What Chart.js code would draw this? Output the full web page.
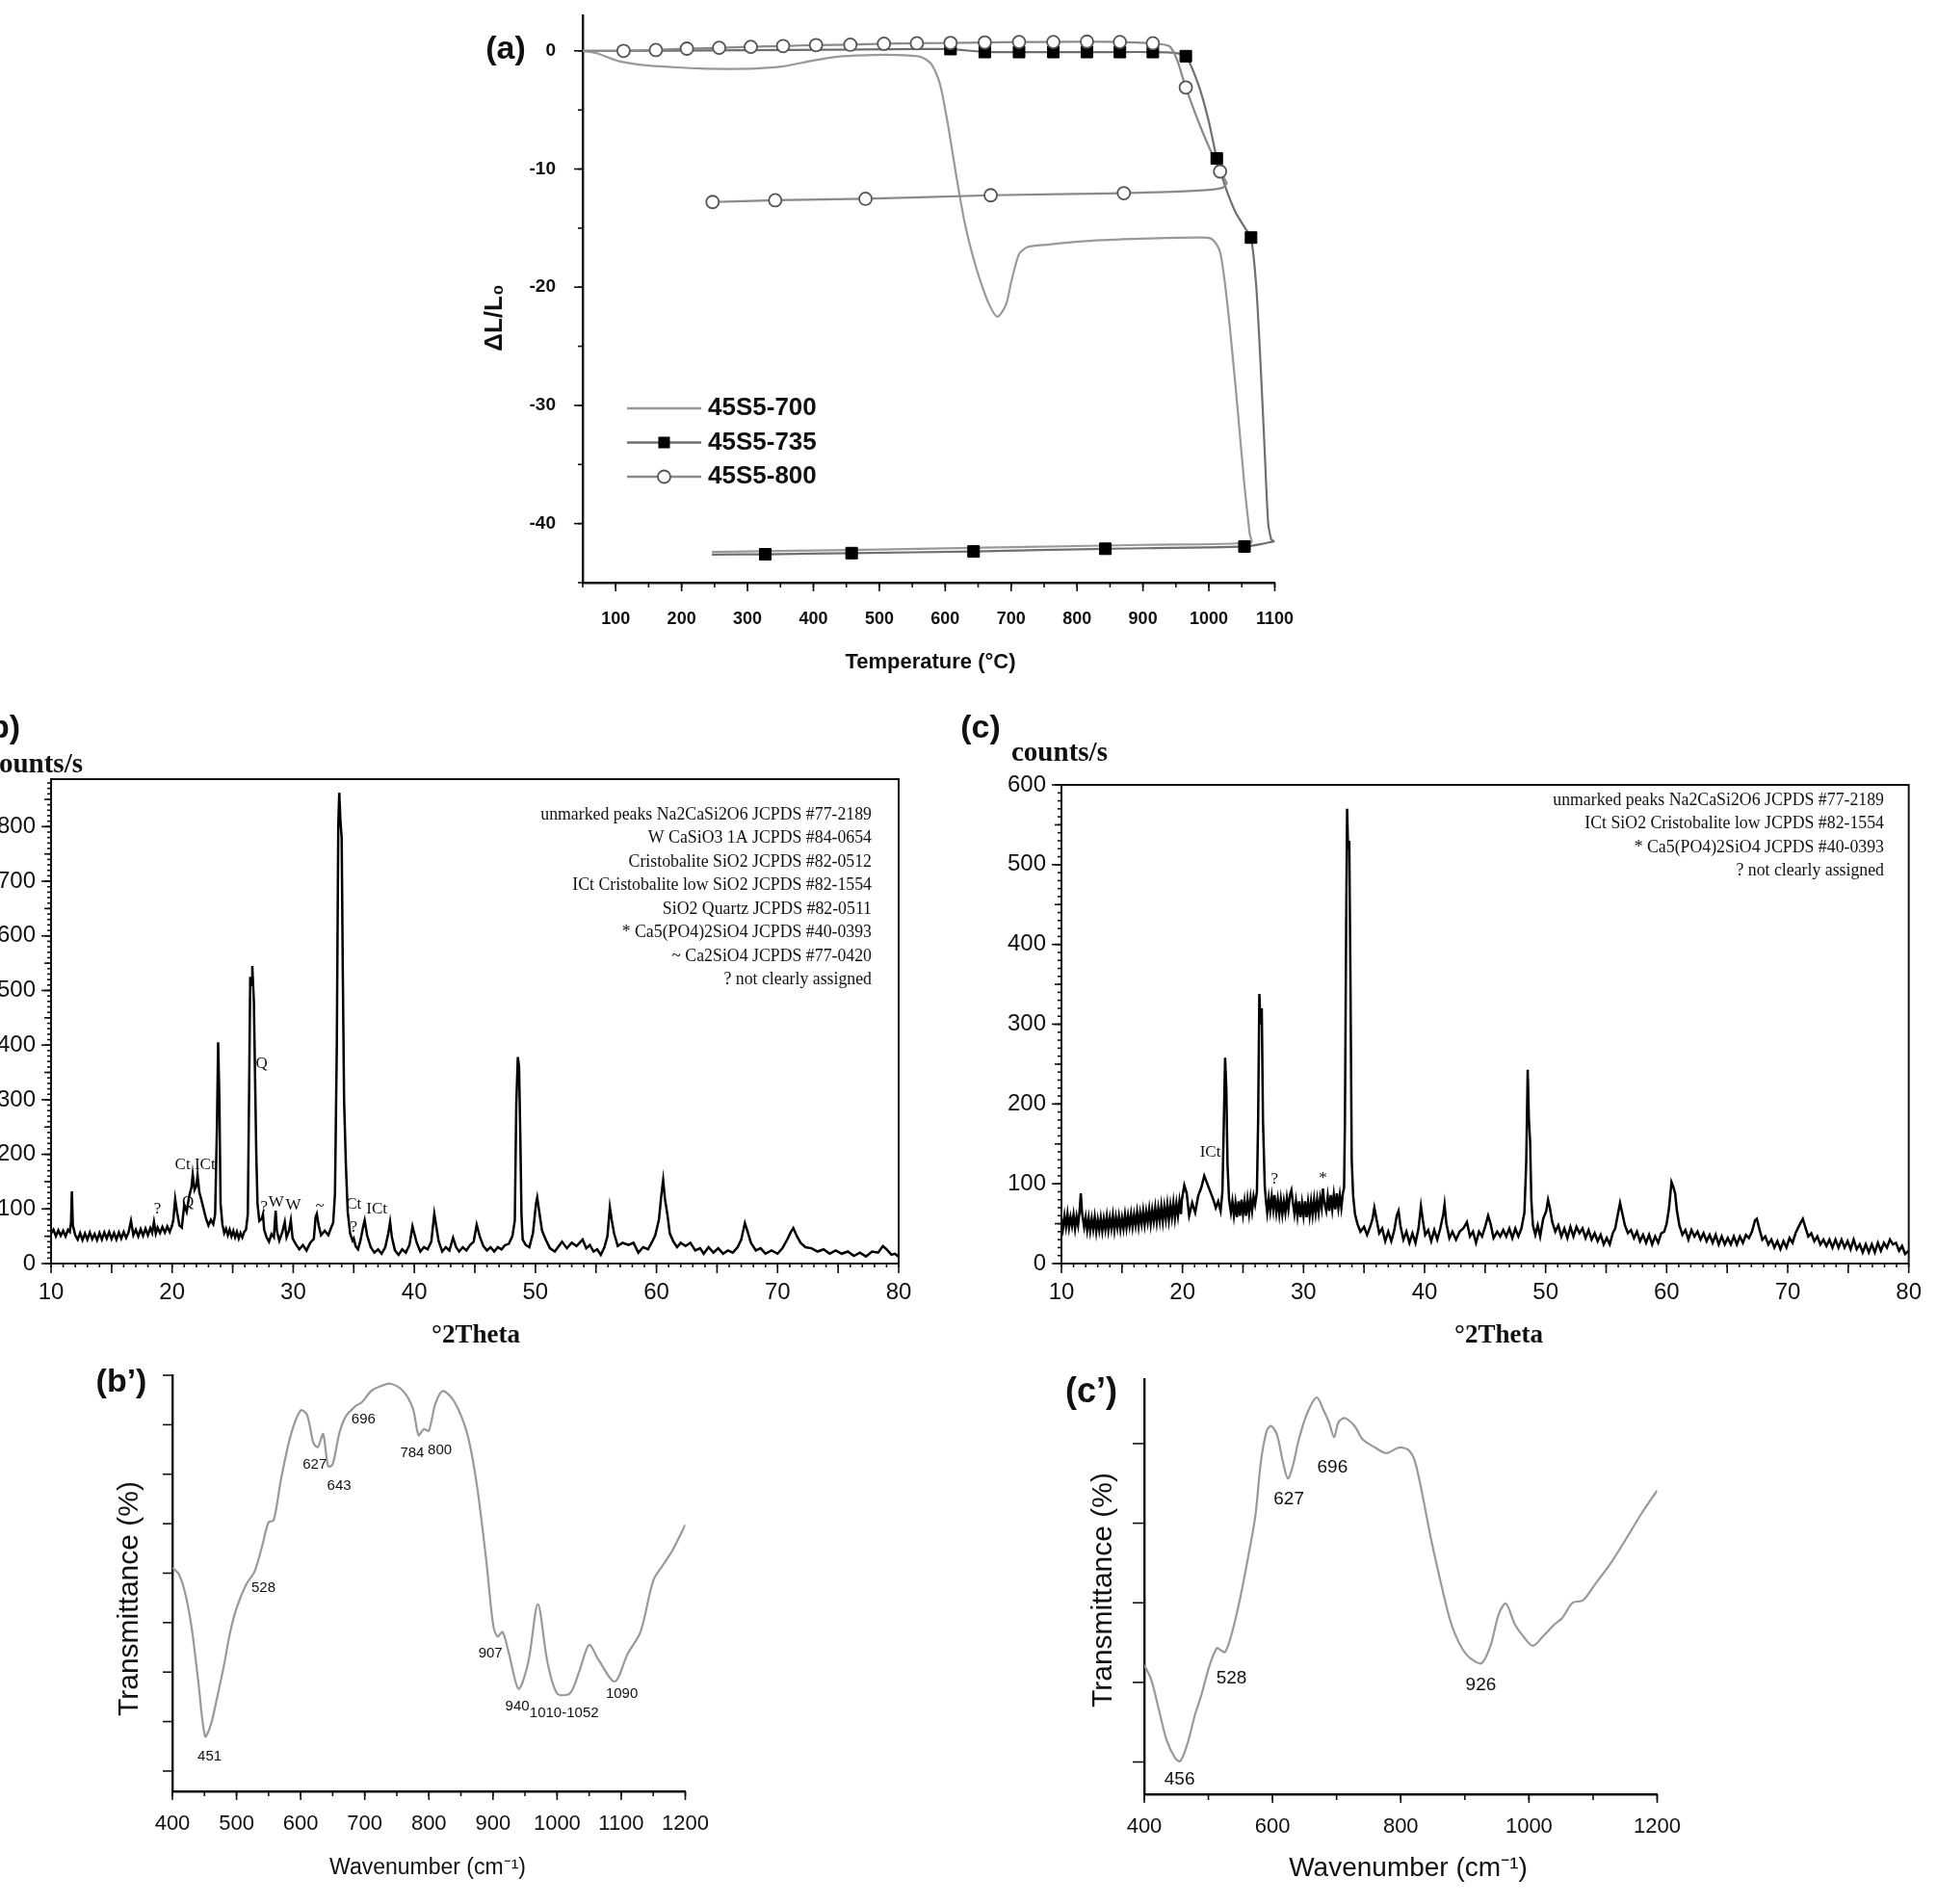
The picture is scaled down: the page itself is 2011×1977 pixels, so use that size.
<!DOCTYPE html>
<html>
<head>
<meta charset="utf-8">
<script src="https://cdn.jsdelivr.net/npm/chart.js@4.4.1/dist/chart.umd.min.js"></script>
<style>
html, body { margin: 0; padding: 0; background: #fff; }
body { width: 2011px; height: 1977px; position: relative; overflow: hidden; }
canvas { position: absolute; }
</style>
</head>
<body>
<canvas id="chartA"></canvas>
<canvas id="chartB"></canvas>
<canvas id="chartC"></canvas>
<canvas id="chartB2"></canvas>
<canvas id="chartC2"></canvas>
<script>
// ---- (a) dilatometry ----
const aSeries = ['45S5-700', '45S5-735', '45S5-800'];

const a700Temp = [50, 71, 104, 146, 187, 229, 271, 312, 354, 396, 437, 479, 521, 562, 579, 592, 604, 617, 629, 642, 654, 667, 679, 692, 700, 712, 725, 754, 812, 896, 979, 1004, 1017, 1029, 1042, 1054, 1062, 1064, 900, 700, 500, 246];
const a700Dl = [0, -0.2, -0.86, -1.23, -1.38, -1.5, -1.53, -1.5, -1.31, -0.86, -0.49, -0.37, -0.34, -0.49, -1.12, -2.8, -6.2, -10.65, -14.4, -17.4, -19.6, -21.5, -22.5, -21.5, -19.6, -17.2, -16.6, -16.4, -16.1, -15.9, -15.8, -15.9, -17, -21.9, -29.3, -36.8, -40.9, -41.6, -41.8, -42.0, -42.2, -42.4];

const a735Temp = [50, 300, 560, 608, 660, 712, 764, 815, 865, 915, 945, 965, 985, 1000, 1012, 1025, 1040, 1055, 1064, 1072, 1078, 1084, 1090, 1095, 1100, 1054, 843, 643, 458, 327, 246];
const a735Dl = [0, 0.05, 0.15, 0.15, -0.1, -0.1, -0.1, -0.1, -0.1, -0.1, -0.15, -0.45, -3, -6, -9.1, -11.5, -13.6, -15, -15.8, -20, -26, -33, -40, -41.4, -41.5, -41.94, -42.13, -42.36, -42.5, -42.6, -42.62];
const a735MarkTemp = [608, 660, 712, 764, 815, 865, 915, 965, 1012, 1064, 1054, 843, 643, 458, 327];
const a735MarkDl = [0.15, -0.1, -0.1, -0.1, -0.1, -0.1, -0.1, -0.45, -9.1, -15.8, -41.94, -42.13, -42.36, -42.5, -42.6];

const a800Temp = [50, 112, 161, 208, 257, 305, 354, 404, 456, 507, 557, 608, 660, 712, 764, 815, 865, 915, 940, 952, 965, 990, 1017, 1027, 1020, 990, 871, 669, 479, 342, 247];
const a800Dl = [0, 0, 0.07, 0.19, 0.26, 0.34, 0.41, 0.49, 0.52, 0.6, 0.64, 0.67, 0.71, 0.75, 0.75, 0.78, 0.75, 0.64, 0.4, -0.8, -3.1, -6.8, -10.2, -11.2, -11.6, -11.8, -12.04, -12.22, -12.52, -12.64, -12.79];
const a800MarkTemp = [112, 161, 208, 257, 305, 354, 404, 456, 507, 557, 608, 660, 712, 764, 815, 865, 915, 965, 1017, 871, 669, 479, 342, 247];
const a800MarkDl = [0, 0.07, 0.19, 0.26, 0.34, 0.41, 0.49, 0.52, 0.6, 0.64, 0.67, 0.71, 0.75, 0.75, 0.78, 0.75, 0.64, -3.1, -10.2, -12.04, -12.22, -12.52, -12.64, -12.79];

// ---- (b) XRD, [°2Theta, counts/s] ----
const xrdBScan = [
  [10.0,55],[10.2,62],[10.4,50],[10.6,61],[10.8,51],[11.0,60],[11.2,50],[11.4,62],[11.55,58],[11.65,75],
  [11.72,132],[11.8,70],[12.0,52],[12.2,44],[12.4,56],[12.6,43],[12.8,55],[13.0,44],[13.2,57],[13.4,45],
  [13.6,54],[13.8,43],[14.0,56],[14.2,44],[14.4,57],[14.6,46],[14.8,58],[15.0,45],[15.2,56],[15.4,44],
  [15.6,57],[15.8,46],[16.0,58],[16.2,47],[16.4,57],[16.6,78],[16.8,52],[17.0,62],[17.2,50],[17.4,63],
  [17.6,51],[17.8,64],[18.0,52],[18.2,65],[18.35,56],[18.5,76],[18.65,55],[18.8,66],[19.0,56],[19.2,67],
  [19.4,57],[19.6,68],[19.8,58],[20.0,70],[20.1,80],[20.25,118],
  [20.4,95],[20.6,70],[20.8,66],[21.0,108],[21.2,95],[21.4,122],[21.6,140],[21.7,163],[21.85,135],[22.0,142],
  [22.1,162],[22.25,130],[22.4,118],[22.6,100],[22.8,82],[23.0,70],[23.2,80],[23.4,72],[23.55,90],[23.7,250],
  [23.8,405],[23.9,300],[24.0,110],[24.15,72],[24.3,56],[24.45,64],[24.6,52],[24.75,62],[24.9,50],[25.05,60],
  [25.2,48],[25.35,58],[25.5,46],[25.65,56],[25.8,48],[25.95,58],
  [26.1,62],[26.25,90],[26.35,300],[26.45,525],[26.55,510],[26.62,545],[26.75,480],[26.85,340],[26.95,200],[27.05,110],
  [27.2,78],[27.4,82],[27.5,90],[27.6,62],[27.8,48],[28.0,40],[28.2,54],[28.4,48],[28.55,97],[28.65,60],
  [28.85,42],[29.1,58],[29.3,76],[29.45,48],[29.65,60],[29.8,79],[29.95,46],[30.2,36],[30.5,26],[30.8,34],
  [31.1,24],[31.4,38],[31.7,45],[31.85,85],[31.95,91],[32.1,70],[32.3,52],[32.6,60],[32.9,52],[33.1,64],
  [33.3,75],[33.45,129],[33.6,400],[33.72,800],[33.8,862],[33.9,810],[34.0,780],[34.1,520],[34.2,300],[34.35,180],
  [34.5,95],[34.7,55],[34.9,42],[35.0,46],[35.15,32],[35.35,26],[35.55,42],[35.75,65],[35.9,79],[36.1,52],
  [36.4,30],[36.7,20],[37.0,26],[37.3,18],[37.6,30],[37.85,55],[38.0,76],[38.15,48],[38.4,24],[38.7,16],
  [39.0,26],[39.3,20],[39.6,34],[39.85,68],[40.0,55],[40.2,38],[40.5,22],[40.8,30],[41.1,26],[41.4,40],
  [41.65,91],[41.8,70],[42.0,42],[42.3,22],[42.6,30],[42.9,24],[43.2,47],[43.45,30],[43.7,22],[44.0,30],
  [44.3,24],[44.6,34],[44.9,40],[45.15,71],[45.4,50],[45.7,32],[46.0,24],[46.3,30],[46.6,22],[46.9,30],
  [47.2,26],[47.5,34],[47.8,36],[48.1,50],[48.3,79],[48.42,291],[48.55,378],[48.65,360],[48.75,238],[48.85,90],
  [48.95,44],[49.2,34],[49.5,30],[49.8,56],[50.05,110],[50.15,121],[50.35,90],[50.55,60],[50.85,44],[51.2,28],
  [51.6,22],[52.0,34],[52.2,40],[52.6,28],[53.0,38],[53.4,32],[53.9,44],[54.2,28],[54.5,34],[54.8,22],
  [55.1,26],[55.4,16],[55.7,30],[55.95,50],[56.15,103],[56.3,80],[56.5,55],[56.8,32],[57.2,38],[57.7,34],
  [58.1,38],[58.5,20],[58.9,30],[59.3,26],[59.6,38],[59.9,52],[60.2,80],[60.4,125],[60.55,153],[60.7,118],
  [60.9,90],[61.1,55],[61.4,40],[61.7,30],[62.0,38],[62.4,32],[62.8,38],[63.2,24],[63.6,28],[63.9,18],
  [64.3,30],[64.7,20],[65.1,28],[65.5,18],[65.9,24],[66.3,20],[66.7,30],[67.0,44],[67.3,74],[67.5,60],
  [67.8,38],[68.2,24],[68.6,28],[69.0,18],[69.5,24],[70.0,18],[70.4,28],[70.8,44],[71.1,58],[71.3,65],
  [71.6,50],[71.9,38],[72.3,30],[72.8,28],[73.3,22],[73.8,26],[74.3,18],[74.8,24],[75.3,18],[75.8,22],
  [76.3,14],[76.8,20],[77.3,13],[77.8,22],[78.3,20],[78.7,32],[79.0,26],[79.4,16],[79.7,18],[80.0,12]
];
const xrdBPhases = [
  'unmarked peaks Na2CaSi2O6 JCPDS #77-2189',
  'W CaSiO3 1A JCPDS #84-0654',
  'Cristobalite SiO2 JCPDS #82-0512',
  'ICt Cristobalite low SiO2 JCPDS #82-1554',
  'SiO2 Quartz JCPDS #82-0511',
  '* Ca5(PO4)2SiO4 JCPDS #40-0393',
  '~ Ca2SiO4 JCPDS #77-0420',
  '? not clearly assigned'
];
const xrdBNoteText = ['?', 'Ct ICt', 'Q', 'Q', '?', 'W', 'W', '~', 'Ct', 'ICt', '?'];
const xrdBNoteX = [18.8, 21.9, 21.3, 27.4, 27.6, 28.6, 30.0, 32.2, 35.0, 36.9, 35.0];
const xrdBNoteY = [100, 180, 112, 365, 103, 112, 106, 104, 109, 100, 66];

// ---- (c) XRD ----
const xrdCScan = [
  [10.0,56],[10.125,44],[10.25,60],[10.375,46],[10.5,62],[10.625,45],[10.75,58],[10.875,47],[11.0,61],[11.125,44],
  [11.25,59],[11.375,48],[11.5,66],[11.6,88],[11.7,64],[11.875,46],[12.0,58],[12.125,42],[12.25,57],[12.375,41],
  [12.5,56],[12.625,43],[12.75,58],[12.875,40],[13.0,55],[13.125,42],[13.25,57],[13.375,41],[13.5,56],[13.625,43],
  [13.75,59],[13.875,42],[14.0,57],[14.125,44],[14.25,60],[14.375,42],[14.5,58],[14.625,45],[14.75,59],[14.875,43],
  [15.0,57],[15.125,44],[15.25,61],[15.375,45],[15.5,60],[15.625,47],[15.75,62],[15.875,46],[16.0,61],[16.125,48],
  [16.25,64],[16.375,47],[16.5,63],[16.625,50],[16.75,66],[16.875,49],[17.0,65],[17.125,52],[17.25,68],[17.375,50],
  [17.5,67],[17.625,53],[17.75,70],[17.875,52],[18.0,69],[18.125,54],[18.25,72],[18.375,53],[18.5,71],[18.625,56],
  [18.75,74],[18.875,55],[19.0,73],[19.125,58],[19.25,76],[19.375,57],[19.5,75],[19.625,60],[19.75,78],[19.875,62],
  [19.95,80],[20.15,98],[20.35,88],[20.55,60],[20.8,76],[21.05,64],[21.3,85],[21.55,95],[21.8,110],
  [21.95,104],[22.15,96],[22.35,88],[22.55,80],[22.75,70],[22.95,78],[23.15,66],[23.3,90],[23.42,180],[23.52,258],
  [23.62,220],[23.72,124],[23.85,80],[24.0,64],[24.125,78],[24.25,60],[24.375,76],[24.5,58],[24.625,78],[24.75,60],
  [24.875,80],[25.0,62],[25.125,78],[25.25,60],[25.375,80],[25.5,63],[25.625,82],[25.75,66],[25.875,84],[26.0,74],
  [26.15,90],[26.25,180],[26.35,338],[26.45,300],[26.55,320],[26.65,180],[26.8,96],[26.9,78],[27.0,64],[27.125,82],
  [27.25,66],[27.375,84],[27.5,68],[27.6,86],[27.75,64],[27.875,80],[28.0,62],[28.125,80],[28.25,62],[28.375,78],
  [28.5,64],[28.625,82],[28.75,68],[28.875,86],[29.0,92],[29.125,76],[29.25,62],[29.375,78],[29.5,60],[29.625,78],
  [29.75,58],[29.875,76],[30.0,60],[30.125,78],[30.25,58],[30.375,77],[30.5,60],[30.625,78],[30.75,61],[30.875,80],
  [31.0,63],[31.125,80],[31.25,64],[31.375,82],[31.5,70],[31.6,94],[31.7,78],[31.875,66],[32.0,84],[32.125,66],
  [32.25,86],[32.375,68],[32.5,86],[32.625,68],[32.75,88],[32.875,70],[33.0,86],[33.125,70],[33.25,88],[33.35,95],
  [33.42,177],[33.52,420],[33.6,570],[33.68,520],[33.78,530],[33.88,350],[33.98,130],[34.1,85],[34.25,62],[34.45,50],
  [34.7,40],[35.0,46],[35.25,36],[35.5,46],[35.7,56],[35.85,70],[36.0,58],[36.25,38],[36.5,44],[36.75,28],
  [37.0,40],[37.25,28],[37.5,42],[37.7,60],[37.85,66],[38.0,48],[38.25,30],[38.5,40],[38.75,26],[39.0,38],
  [39.25,26],[39.5,44],[39.7,72],[39.85,55],[40.05,36],[40.3,42],[40.55,28],[40.8,42],[41.05,30],[41.3,44],
  [41.55,62],[41.65,74],[41.8,50],[42.05,32],[42.3,40],[42.6,30],[42.9,40],[43.2,44],[43.5,52],[43.75,34],
  [44.0,40],[44.25,26],[44.5,40],[44.75,34],[45.0,46],[45.25,60],[45.45,50],[45.7,32],[46.0,40],[46.25,34],
  [46.5,42],[46.75,34],[47.0,44],[47.25,32],[47.5,44],[47.75,34],[48.0,44],[48.25,64],[48.4,128],[48.52,243],
  [48.62,180],[48.72,153],[48.82,80],[48.95,48],[49.15,36],[49.35,48],[49.55,34],[49.8,56],[50.05,66],[50.2,80],
  [50.35,70],[50.55,52],[50.8,40],[51.05,48],[51.3,34],[51.55,44],[51.8,32],[52.05,46],[52.3,34],[52.55,46],
  [52.8,38],[53.05,44],[53.3,32],[53.55,42],[53.8,30],[54.05,38],[54.3,28],[54.55,36],[54.8,24],[55.05,32],
  [55.3,24],[55.55,38],[55.75,44],[55.95,60],[56.15,76],[56.35,62],[56.55,48],[56.8,38],[57.05,42],[57.3,32],
  [57.55,40],[57.8,28],[58.05,36],[58.3,26],[58.55,36],[58.8,24],[59.05,34],[59.3,26],[59.55,38],[59.8,40],
  [60.0,50],[60.2,70],[60.4,102],[60.55,96],[60.7,88],[60.85,66],[61.05,48],[61.3,36],[61.55,42],[61.8,30],
  [62.05,42],[62.3,34],[62.55,40],[62.8,30],[63.05,38],[63.3,28],[63.55,36],[63.8,26],[64.05,36],[64.3,24],
  [64.55,34],[64.8,24],[65.05,32],[65.3,24],[65.55,34],[65.8,24],[66.05,34],[66.3,26],[66.55,36],[66.8,32],
  [67.05,40],[67.3,54],[67.45,56],[67.65,44],[67.9,30],[68.15,34],[68.4,24],[68.65,30],[68.9,20],[69.15,28],
  [69.4,18],[69.65,28],[69.9,20],[70.15,32],[70.4,26],[70.65,38],[70.9,46],[71.1,52],[71.25,56],[71.45,46],
  [71.7,34],[71.95,38],[72.2,28],[72.45,34],[72.7,24],[72.95,30],[73.2,22],[73.45,30],[73.7,20],[73.95,30],
  [74.2,20],[74.45,30],[74.7,20],[74.95,28],[75.2,18],[75.45,30],[75.7,18],[75.95,24],[76.2,14],[76.45,24],
  [76.7,14],[76.95,24],[77.2,14],[77.45,26],[77.7,16],[77.95,26],[78.2,20],[78.45,30],[78.7,24],[78.95,26],
  [79.2,16],[79.45,22],[79.7,12],[80.0,16]
];
const xrdCPhases = [
  'unmarked peaks Na2CaSi2O6 JCPDS #77-2189',
  'ICt SiO2 Cristobalite low JCPDS #82-1554',
  '* Ca5(PO4)2SiO4 JCPDS #40-0393',
  '? not clearly assigned'
];
const xrdCNoteText = ['ICt', '?', '*'];
const xrdCNoteX = [22.3, 27.6, 31.6];
const xrdCNoteY = [140, 106, 107];

// ---- (b') FTIR ----
const ftirBWave = [400, 410, 420, 430, 440, 451, 460, 470, 480, 490, 500, 515, 528, 540, 550, 558, 570, 585, 600, 610, 620, 627, 635, 643, 650, 660, 670, 685, 696, 710, 725, 740, 760, 775, 784, 792, 800, 810, 822, 840, 860, 875, 890, 900, 907, 915, 925, 940, 955, 970, 985, 1000, 1020, 1035, 1050, 1065, 1090, 1110, 1130, 1150, 1165, 1180, 1200];
const ftirBTrans = [4.11, 3.98, 3.59, 2.9, 1.85, 0.70, 0.94, 1.5, 2.11, 2.8, 3.29, 3.77, 4.03, 4.55, 5.03, 5.07, 5.94, 6.81, 7.29, 7.2, 6.63, 6.55, 6.81, 6.16, 6.2, 6.81, 7.16, 7.37, 7.46, 7.68, 7.78, 7.83, 7.68, 7.33, 6.79, 6.91, 6.88, 7.42, 7.68, 7.46, 6.81, 5.77, 4.2, 2.98, 2.72, 2.81, 2.37, 1.66, 2.2, 3.37, 2.2, 1.57, 1.57, 2.03, 2.55, 2.24, 1.81, 2.37, 2.81, 3.85, 4.16, 4.46, 4.98];
const ftirBPeakText = ['451', '528', '627', '643', '696', '784', '800', '907', '940', '1010-1052', '1090'];
const ftirBPeakX = [458, 542, 622, 660, 698, 774, 817, 896, 938, 1011, 1101];
const ftirBPeakY = [0.29, 3.7, 6.2, 5.77, 7.11, 6.43, 6.48, 2.37, 1.31, 1.16, 1.55];

// ---- (c') FTIR ----
const ftirCWave = [400, 411, 423, 435, 448, 456, 467, 479, 489, 501, 513, 520, 526, 535, 548, 560, 573, 582, 591, 598, 607, 616, 624, 632, 641, 654, 669, 679, 688, 696, 703, 713, 728, 741, 760, 778, 797, 812, 822, 834, 847, 862, 875, 884, 897, 909, 926, 940, 953, 964, 978, 990, 1006, 1021, 1040, 1052, 1068, 1084, 1102, 1127, 1152, 1177, 1200];
const ftirCTrans = [1.22, 1.03, 0.65, 0.27, 0.05, 0.01, 0.22, 0.59, 0.84, 1.19, 1.43, 1.40, 1.38, 1.57, 2.0, 2.49, 3.08, 3.78, 4.16, 4.22, 4.11, 3.78, 3.56, 3.73, 4.05, 4.38, 4.58, 4.43, 4.27, 4.08, 4.27, 4.32, 4.22, 4.05, 3.95, 3.88, 3.95, 3.92, 3.78, 3.35, 2.81, 2.27, 1.84, 1.62, 1.41, 1.30, 1.24, 1.46, 1.86, 1.99, 1.73, 1.59, 1.46, 1.57, 1.73, 1.81, 2.0, 2.03, 2.22, 2.49, 2.81, 3.14, 3.41];
const ftirCPeakText = ['456', '528', '627', '696', '926'];
const ftirCPeakX = [455, 536, 625.5, 693.5, 925];
const ftirCPeakY = [-0.22, 1.05, 3.3, 3.7, 0.97];

const SANS = '"Liberation Sans", Arial, sans-serif';
const SERIF = '"Liberation Serif", "Times New Roman", serif';
Chart.defaults.font.family = SANS;
Chart.defaults.color = '#111';

function pts(xs, ys) {
  return xs.map((x, i) => ({ x: x, y: ys[i] }));
}
function pairs(list) {
  return list.map(p => ({ x: p[0], y: p[1] }));
}

// draws tick marks, box, free text, data-anchored labels and the legend
function decoPlugin(d) {
  return {
    id: 'deco',
    afterDraw(chart) {
      const ctx = chart.ctx, a = chart.chartArea;
      const sx = chart.scales.x, sy = chart.scales.y;
      ctx.save();
      ctx.strokeStyle = '#111';
      if (d.box) {
        ctx.lineWidth = d.box;
        ctx.strokeRect(a.left, a.top, a.right - a.left, a.bottom - a.top);
      }
      ctx.lineWidth = d.tickWidth || 1.6;
      (d.xTicks || []).forEach(t => {
        for (let i = Math.ceil(sx.min / t.step - 1e-6); i * t.step <= sx.max + 1e-6; i++) {
          const p = sx.getPixelForValue(i * t.step);
          ctx.beginPath(); ctx.moveTo(p, a.bottom); ctx.lineTo(p, a.bottom + t.len); ctx.stroke();
        }
      });
      (d.yTicks || []).forEach(t => {
        for (let i = Math.ceil(sy.min / t.step - 1e-6); i * t.step <= sy.max + 1e-6; i++) {
          const p = sy.getPixelForValue(i * t.step);
          ctx.beginPath(); ctx.moveTo(a.left, p); ctx.lineTo(a.left - t.len, p); ctx.stroke();
        }
      });
      ctx.fillStyle = '#111';
      ctx.textBaseline = 'middle';
      (d.texts || []).forEach(t => {
        ctx.save();
        ctx.font = t.font;
        ctx.textAlign = t.align || 'center';
        ctx.translate(t.x - d.pageX, t.y - d.pageY);
        if (t.rot) ctx.rotate(t.rot);
        ctx.fillText(t.text, 0, 0);
        ctx.restore();
      });
      if (d.notes) {
        ctx.font = d.notes.font;
        ctx.textAlign = 'center';
        d.notes.text.forEach((s, i) => {
          ctx.fillText(s, sx.getPixelForValue(d.notes.x[i]), sy.getPixelForValue(d.notes.y[i]));
        });
      }
      if (d.lines) {
        ctx.font = d.lines.font;
        ctx.textAlign = 'right';
        d.lines.text.forEach((s, i) => {
          ctx.fillText(s, d.lines.x - d.pageX, d.lines.y + i * d.lines.dy - d.pageY);
        });
      }
      if (d.legend) {
        const L = d.legend;
        L.items.forEach((it, i) => {
          const y = L.y + i * L.dy - d.pageY;
          const x1 = L.x1 - d.pageX, x2 = L.x2 - d.pageX, xm = (x1 + x2) / 2;
          ctx.strokeStyle = it.color; ctx.lineWidth = 2.4;
          ctx.beginPath(); ctx.moveTo(x1, y); ctx.lineTo(x2, y); ctx.stroke();
          if (it.marker === 'rect') {
            ctx.fillStyle = '#000';
            ctx.fillRect(xm - 6, y - 6, 12, 12);
          } else if (it.marker === 'circle') {
            ctx.fillStyle = '#fff'; ctx.strokeStyle = '#555'; ctx.lineWidth = 1.8;
            ctx.beginPath(); ctx.arc(xm, y, 6.5, 0, Math.PI * 2); ctx.fill(); ctx.stroke();
          }
          ctx.fillStyle = '#111';
          ctx.font = L.font; ctx.textAlign = 'left';
          ctx.fillText(it.label, L.tx - d.pageX, y);
        });
      }
      ctx.restore();
    }
  };
}

function axis(min, max, step, o) {
  return {
    type: 'linear', min: min, max: max,
    grid: { display: false, drawTicks: false },
    border: { display: true, width: o.bw || 2.4, color: '#111' },
    ticks: {
      stepSize: step, includeBounds: false, autoSkip: false, maxRotation: 0, minRotation: 0,
      padding: o.pad || 0, display: o.show !== false, color: '#111', font: o.font,
      callback: v => String(v)
    }
  };
}

// box = canvas [left, top, width, height], area = plot area [left, top, right, bottom], page px
function panel(id, box, area, datasets, scales, deco) {
  const cv = document.getElementById(id);
  cv.width = box[2]; cv.height = box[3];
  cv.style.left = box[0] + 'px'; cv.style.top = box[1] + 'px';
  deco.pageX = box[0]; deco.pageY = box[1];
  const yw = area[0] - box[0];
  const xh = box[1] + box[3] - area[3];
  scales.x.afterFit = s => { s.height = xh; };
  scales.y.afterFit = s => { s.width = yw; };
  return new Chart(cv, {
    type: 'scatter',
    data: { datasets: datasets },
    options: {
      responsive: false, animation: false, devicePixelRatio: 1, events: [],
      layout: { padding: { left: 0, bottom: 0, top: area[1] - box[1], right: box[0] + box[2] - area[2] } },
      plugins: { legend: { display: false }, tooltip: { enabled: false } },
      scales: scales
    },
    plugins: [decoPlugin(deco)]
  });
}

// (a)
panel('chartA', [440, -40, 930, 760], [605, 16, 1328, 605], [
  { data: pts(a800MarkTemp, a800MarkDl), showLine: false, pointStyle: 'circle', pointRadius: 6.5,
    pointBackgroundColor: '#fff', pointBorderColor: '#555', pointBorderWidth: 1.8, order: 0 },
  { data: pts(a735MarkTemp, a735MarkDl), showLine: false, pointStyle: 'rect', pointRadius: 8.5,
    pointBackgroundColor: '#000', pointBorderColor: '#000', pointBorderWidth: 1, order: 1 },
  { data: pts(a800Temp, a800Dl), showLine: true, borderColor: '#8a8a8a', borderWidth: 2.2, pointRadius: 0, tension: 0.2, order: 2 },
  { data: pts(a735Temp, a735Dl), showLine: true, borderColor: '#6f6f6f', borderWidth: 2.2, pointRadius: 0, tension: 0.2, order: 3 },
  { data: pts(a700Temp, a700Dl), showLine: true, borderColor: '#999', borderWidth: 2.2, pointRadius: 0, tension: 0.25, order: 4 }
], {
  x: axis(50, 1100, 100, { pad: 27, font: { size: 18, weight: 'bold' } }),
  y: axis(-45, 3, 10, { pad: 28, font: { size: 19, weight: 'bold' } })
}, {
  xTicks: [{ step: 100, len: 9 }, { step: 50, len: 5 }],
  yTicks: [{ step: 10, len: 9 }, { step: 5, len: 5 }],
  texts: [
    { text: '(a)', x: 525, y: 52, font: 'bold 34px ' + SANS },
    { text: 'ΔL/L₀', x: 514, y: 330, font: 'bold 26px ' + SANS, rot: -Math.PI / 2 },
    { text: 'Temperature (°C)', x: 966, y: 688, font: 'bold 22px ' + SANS }
  ],
  legend: {
    x1: 651, x2: 728, tx: 735, y: 424, dy: 35.5, font: 'bold 26px ' + SANS,
    items: [
      { label: aSeries[0], color: '#999', marker: null },
      { label: aSeries[1], color: '#6f6f6f', marker: 'rect' },
      { label: aSeries[2], color: '#8a8a8a', marker: 'circle' }
    ]
  }
});

// (b)
panel('chartB', [0, 730, 980, 690], [53, 809, 933, 1312], [
  { data: pairs(xrdBScan), showLine: true, borderColor: '#000', borderWidth: 2.5, pointRadius: 0, tension: 0 }
], {
  x: axis(10, 80, 10, { pad: 16, bw: 2, font: { size: 24 } }),
  y: axis(0, 887, 100, { pad: 16, bw: 2, font: { size: 24 } })
}, {
  box: 2,
  xTicks: [{ step: 5, len: 10 }, { step: 1, len: 4 }],
  yTicks: [{ step: 100, len: 10 }, { step: 50, len: 7 }, { step: 10, len: 4 }],
  texts: [
    { text: '(b)', x: 21, y: 757, font: 'bold 34px ' + SANS, align: 'right' },
    { text: 'counts/s', x: 86, y: 795, font: 'bold 29px ' + SERIF, align: 'right' },
    { text: '°2Theta', x: 494, y: 1387, font: 'bold 27px ' + SERIF }
  ],
  lines: { text: xrdBPhases, x: 905, y: 846, dy: 24.5, font: '17.8px ' + SERIF },
  notes: { text: xrdBNoteText, x: xrdBNoteX, y: xrdBNoteY, font: '17px ' + SERIF }
});

// (c)
panel('chartC', [950, 730, 1061, 690], [1102, 815, 1988, 1312], [
  { data: pairs(xrdCScan), showLine: true, borderColor: '#000', borderWidth: 2.5, pointRadius: 0, tension: 0 }
], {
  x: axis(10, 80, 10, { pad: 16, bw: 2, font: { size: 24 } }),
  y: axis(0, 600, 100, { pad: 16, bw: 2, font: { size: 24 } })
}, {
  box: 2,
  xTicks: [{ step: 5, len: 10 }, { step: 1, len: 4 }],
  yTicks: [{ step: 100, len: 10 }, { step: 50, len: 7 }, { step: 10, len: 4 }],
  texts: [
    { text: '(c)', x: 1018, y: 757, font: 'bold 34px ' + SANS },
    { text: 'counts/s', x: 1050, y: 783, font: 'bold 29px ' + SERIF, align: 'left' },
    { text: '°2Theta', x: 1556, y: 1387, font: 'bold 27px ' + SERIF }
  ],
  lines: { text: xrdCPhases, x: 1956, y: 831, dy: 24.5, font: '17.8px ' + SERIF },
  notes: { text: xrdCNoteText, x: xrdCNoteX, y: xrdCNoteY, font: '17px ' + SERIF }
});

// (b')
panel('chartB2', [60, 1400, 700, 577], [179, 1428, 711.5, 1860], [
  { data: pts(ftirBWave, ftirBTrans), showLine: true, borderColor: '#999', borderWidth: 2.2, pointRadius: 0, tension: 0.3 }
], {
  x: axis(400, 1200, 100, { pad: 21, font: { size: 22 } }),
  y: axis(-0.41, 8.0, 1, { show: false })
}, {
  xTicks: [{ step: 100, len: 9 }, { step: 50, len: 5 }],
  yTicks: [{ step: 1, len: 10 }],
  texts: [
    { text: '(b’)', x: 126, y: 1436, font: 'bold 34px ' + SANS },
    { text: 'Transmittance (%)', x: 135, y: 1660, font: '30px ' + SANS, rot: -Math.PI / 2 },
    { text: 'Wavenumber (cm⁻¹)', x: 444, y: 1940, font: '23px ' + SANS }
  ],
  notes: { text: ftirBPeakText, x: ftirBPeakX, y: ftirBPeakY, font: '15px ' + SANS }
});

// (c')
panel('chartC2', [1080, 1400, 700, 577], [1188, 1432, 1720.5, 1863], [
  { data: pts(ftirCWave, ftirCTrans), showLine: true, borderColor: '#999', borderWidth: 2.2, pointRadius: 0, tension: 0.3 }
], {
  x: axis(400, 1200, 200, { pad: 21, font: { size: 22 } }),
  y: axis(-0.405, 4.81, 1, { show: false })
}, {
  xTicks: [{ step: 200, len: 9 }, { step: 100, len: 6 }],
  yTicks: [{ step: 1, len: 12 }],
  texts: [
    { text: '(c’)', x: 1133, y: 1446, font: 'bold 36px ' + SANS },
    { text: 'Transmittance (%)', x: 1146, y: 1651, font: '30px ' + SANS, rot: -Math.PI / 2 },
    { text: 'Wavenumber (cm⁻¹)', x: 1462, y: 1940, font: '28px ' + SANS }
  ],
  notes: { text: ftirCPeakText, x: ftirCPeakX, y: ftirCPeakY, font: '19px ' + SANS }
});
</script>
</body>
</html>
